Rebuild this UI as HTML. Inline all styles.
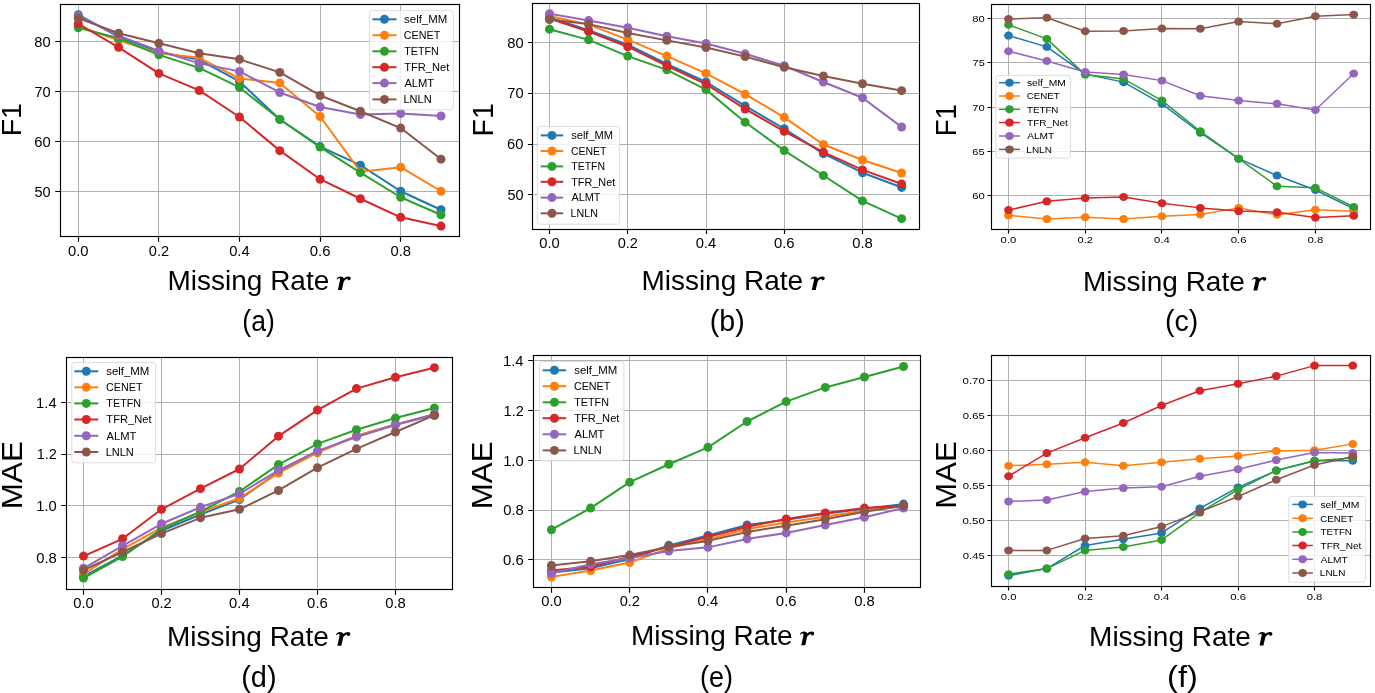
<!DOCTYPE html>
<html><head><meta charset="utf-8"><style>
html,body{margin:0;padding:0;background:#fff;width:1375px;height:693px;overflow:hidden}
svg{display:block;will-change:transform}
text{font-family:"Liberation Sans",sans-serif;fill:#000}
</style></head><body>
<svg width="1375" height="693" viewBox="0 0 1375 693">
<rect width="1375" height="693" fill="#fff"/>
<clipPath id="clip0"><rect x="60.5" y="4.3" width="398.8" height="231.9"/></clipPath>
<path d="M78.5 4.3V236.2M158.5 4.3V236.2M239.5 4.3V236.2M320.5 4.3V236.2M400.5 4.3V236.2M60.5 191.5H459.3M60.5 141.5H459.3M60.5 91.5H459.3M60.5 41.5H459.3" stroke="#b0b0b0" stroke-width="1" fill="none"/>
<g clip-path="url(#clip0)">
<path d="M78.3 14.72 L118.6 36.79 L158.9 51.83 L199.2 59.86 L239.5 81.42 L279.8 119.53 L320.1 146.62 L360.4 165.17 L400.7 191.25 L441 209.8" stroke="#1f77b4" stroke-width="2" fill="none" stroke-linejoin="round" stroke-linecap="square"/>
<g fill="#1f77b4"><ellipse cx="78.3" cy="14.72" rx="4.5" ry="4.5"/><ellipse cx="118.6" cy="36.79" rx="4.5" ry="4.5"/><ellipse cx="158.9" cy="51.83" rx="4.5" ry="4.5"/><ellipse cx="199.2" cy="59.86" rx="4.5" ry="4.5"/><ellipse cx="239.5" cy="81.42" rx="4.5" ry="4.5"/><ellipse cx="279.8" cy="119.53" rx="4.5" ry="4.5"/><ellipse cx="320.1" cy="146.62" rx="4.5" ry="4.5"/><ellipse cx="360.4" cy="165.17" rx="4.5" ry="4.5"/><ellipse cx="400.7" cy="191.25" rx="4.5" ry="4.5"/><ellipse cx="441" cy="209.8" rx="4.5" ry="4.5"/></g>
<path d="M78.3 26.25 L118.6 40.3 L158.9 53.34 L199.2 57.85 L239.5 78.41 L279.8 82.92 L320.1 116.52 L360.4 171.69 L400.7 167.18 L441 191.25" stroke="#ff7f0e" stroke-width="2" fill="none" stroke-linejoin="round" stroke-linecap="square"/>
<g fill="#ff7f0e"><ellipse cx="78.3" cy="26.25" rx="4.5" ry="4.5"/><ellipse cx="118.6" cy="40.3" rx="4.5" ry="4.5"/><ellipse cx="158.9" cy="53.34" rx="4.5" ry="4.5"/><ellipse cx="199.2" cy="57.85" rx="4.5" ry="4.5"/><ellipse cx="239.5" cy="78.41" rx="4.5" ry="4.5"/><ellipse cx="279.8" cy="82.92" rx="4.5" ry="4.5"/><ellipse cx="320.1" cy="116.52" rx="4.5" ry="4.5"/><ellipse cx="360.4" cy="171.69" rx="4.5" ry="4.5"/><ellipse cx="400.7" cy="167.18" rx="4.5" ry="4.5"/><ellipse cx="441" cy="191.25" rx="4.5" ry="4.5"/></g>
<path d="M78.3 27.76 L118.6 38.29 L158.9 54.84 L199.2 67.88 L239.5 87.44 L279.8 119.28 L320.1 147.12 L360.4 172.69 L400.7 197.27 L441 214.82" stroke="#2ca02c" stroke-width="2" fill="none" stroke-linejoin="round" stroke-linecap="square"/>
<g fill="#2ca02c"><ellipse cx="78.3" cy="27.76" rx="4.5" ry="4.5"/><ellipse cx="118.6" cy="38.29" rx="4.5" ry="4.5"/><ellipse cx="158.9" cy="54.84" rx="4.5" ry="4.5"/><ellipse cx="199.2" cy="67.88" rx="4.5" ry="4.5"/><ellipse cx="239.5" cy="87.44" rx="4.5" ry="4.5"/><ellipse cx="279.8" cy="119.28" rx="4.5" ry="4.5"/><ellipse cx="320.1" cy="147.12" rx="4.5" ry="4.5"/><ellipse cx="360.4" cy="172.69" rx="4.5" ry="4.5"/><ellipse cx="400.7" cy="197.27" rx="4.5" ry="4.5"/><ellipse cx="441" cy="214.82" rx="4.5" ry="4.5"/></g>
<path d="M78.3 23.75 L118.6 47.32 L158.9 73.4 L199.2 90.45 L239.5 117.03 L279.8 150.63 L320.1 179.21 L360.4 198.77 L400.7 217.33 L441 226.1" stroke="#d62728" stroke-width="2" fill="none" stroke-linejoin="round" stroke-linecap="square"/>
<g fill="#d62728"><ellipse cx="78.3" cy="23.75" rx="4.5" ry="4.5"/><ellipse cx="118.6" cy="47.32" rx="4.5" ry="4.5"/><ellipse cx="158.9" cy="73.4" rx="4.5" ry="4.5"/><ellipse cx="199.2" cy="90.45" rx="4.5" ry="4.5"/><ellipse cx="239.5" cy="117.03" rx="4.5" ry="4.5"/><ellipse cx="279.8" cy="150.63" rx="4.5" ry="4.5"/><ellipse cx="320.1" cy="179.21" rx="4.5" ry="4.5"/><ellipse cx="360.4" cy="198.77" rx="4.5" ry="4.5"/><ellipse cx="400.7" cy="217.33" rx="4.5" ry="4.5"/><ellipse cx="441" cy="226.1" rx="4.5" ry="4.5"/></g>
<path d="M78.3 15.72 L118.6 35.78 L158.9 50.83 L199.2 63.37 L239.5 71.39 L279.8 92.45 L320.1 107 L360.4 114.52 L400.7 113.52 L441 116.02" stroke="#9467bd" stroke-width="2" fill="none" stroke-linejoin="round" stroke-linecap="square"/>
<g fill="#9467bd"><ellipse cx="78.3" cy="15.72" rx="4.5" ry="4.5"/><ellipse cx="118.6" cy="35.78" rx="4.5" ry="4.5"/><ellipse cx="158.9" cy="50.83" rx="4.5" ry="4.5"/><ellipse cx="199.2" cy="63.37" rx="4.5" ry="4.5"/><ellipse cx="239.5" cy="71.39" rx="4.5" ry="4.5"/><ellipse cx="279.8" cy="92.45" rx="4.5" ry="4.5"/><ellipse cx="320.1" cy="107" rx="4.5" ry="4.5"/><ellipse cx="360.4" cy="114.52" rx="4.5" ry="4.5"/><ellipse cx="400.7" cy="113.52" rx="4.5" ry="4.5"/><ellipse cx="441" cy="116.02" rx="4.5" ry="4.5"/></g>
<path d="M78.3 18.23 L118.6 33.28 L158.9 43.31 L199.2 53.34 L239.5 59.35 L279.8 72.39 L320.1 95.46 L360.4 111.26 L400.7 128.06 L441 159.15" stroke="#8c564b" stroke-width="2" fill="none" stroke-linejoin="round" stroke-linecap="square"/>
<g fill="#8c564b"><ellipse cx="78.3" cy="18.23" rx="4.5" ry="4.5"/><ellipse cx="118.6" cy="33.28" rx="4.5" ry="4.5"/><ellipse cx="158.9" cy="43.31" rx="4.5" ry="4.5"/><ellipse cx="199.2" cy="53.34" rx="4.5" ry="4.5"/><ellipse cx="239.5" cy="59.35" rx="4.5" ry="4.5"/><ellipse cx="279.8" cy="72.39" rx="4.5" ry="4.5"/><ellipse cx="320.1" cy="95.46" rx="4.5" ry="4.5"/><ellipse cx="360.4" cy="111.26" rx="4.5" ry="4.5"/><ellipse cx="400.7" cy="128.06" rx="4.5" ry="4.5"/><ellipse cx="441" cy="159.15" rx="4.5" ry="4.5"/></g>
</g>
<rect x="60.5" y="4.5" width="399" height="232" fill="none" stroke="#000" stroke-width="1.15"/>
<path d="M78.5 236.5V241.8M158.5 236.5V241.8M239.5 236.5V241.8M320.5 236.5V241.8M400.5 236.5V241.8M60.5 191.5H55.2M60.5 141.5H55.2M60.5 91.5H55.2M60.5 41.5H55.2" stroke="#000" stroke-width="1.15" fill="none"/>
<text x="68.03" y="255.6" font-size="14.09" textLength="20.55" lengthAdjust="spacingAndGlyphs">0.0</text>
<text x="148.86" y="255.6" font-size="14.09" textLength="20.24" lengthAdjust="spacingAndGlyphs">0.2</text>
<text x="229.16" y="255.6" font-size="14.09" textLength="20.54" lengthAdjust="spacingAndGlyphs">0.4</text>
<text x="309.8" y="255.6" font-size="14.09" textLength="20.67" lengthAdjust="spacingAndGlyphs">0.6</text>
<text x="390.44" y="255.6" font-size="14.09" textLength="20.59" lengthAdjust="spacingAndGlyphs">0.8</text>
<text x="34.5" y="196.98" font-size="14.09" textLength="16.16" lengthAdjust="spacingAndGlyphs">50</text>
<text x="34.24" y="146.83" font-size="14.09" textLength="16.44" lengthAdjust="spacingAndGlyphs">60</text>
<text x="34.4" y="96.68" font-size="14.09" textLength="16.27" lengthAdjust="spacingAndGlyphs">70</text>
<text x="34.32" y="46.53" font-size="14.09" textLength="16.35" lengthAdjust="spacingAndGlyphs">80</text>
<g transform="translate(20.8 134) rotate(-90)"><text x="-2.34" y="0" font-size="28.49" textLength="33.23" lengthAdjust="spacingAndGlyphs">F1</text></g>
<text x="167.5" y="290" font-size="28.49" textLength="161.74" lengthAdjust="spacingAndGlyphs">Missing Rate</text>
<path transform="translate(333.9 272.4)" d="M2.6 6.6C3.3 5.1 4.8 4.0 6.6 4.0C8.3 4.0 9.3 4.7 9.9 5.9C11.2 4.8 12.9 4.0 14.6 4.0C16.1 4.0 16.9 4.7 16.9 5.8C16.9 7.0 16.0 7.8 15.0 7.8C14.0 7.8 13.5 7.1 13.8 6.3C12.2 6.5 10.8 7.6 9.9 9.0L7.9 17.6L4.0 17.6L6.2 7.4C6.3 6.5 5.9 5.9 5.1 5.9C4.3 5.9 3.7 6.4 3.2 7.1Z"/>
<text x="242.3" y="331.4" font-size="28.76" textLength="32.44" lengthAdjust="spacingAndGlyphs">(a)</text>
<rect x="369.5" y="10.6" width="83.8" height="99.2" rx="2.5" fill="#fff" fill-opacity="0.8" stroke="#d4d4d4" stroke-opacity="0.8" stroke-width="1"/>
<path d="M372.4 19.3H396.5" stroke="#1f77b4" stroke-width="2"/>
<ellipse cx="384.45" cy="19.3" rx="4.5" ry="4.5" fill="#1f77b4"/>
<text x="404.08" y="23.27" font-size="11.55" textLength="43.11" lengthAdjust="spacingAndGlyphs">self_MM</text>
<path d="M372.4 35.2H396.5" stroke="#ff7f0e" stroke-width="2"/>
<ellipse cx="384.45" cy="35.2" rx="4.5" ry="4.5" fill="#ff7f0e"/>
<text x="403.85" y="39.17" font-size="11.55" textLength="36.41" lengthAdjust="spacingAndGlyphs">CENET</text>
<path d="M372.4 51.3H396.5" stroke="#2ca02c" stroke-width="2"/>
<ellipse cx="384.45" cy="51.3" rx="4.5" ry="4.5" fill="#2ca02c"/>
<text x="404.16" y="55.27" font-size="11.55" textLength="34.71" lengthAdjust="spacingAndGlyphs">TETFN</text>
<path d="M372.4 67.2H396.5" stroke="#d62728" stroke-width="2"/>
<ellipse cx="384.45" cy="67.2" rx="4.5" ry="4.5" fill="#d62728"/>
<text x="404.15" y="71.17" font-size="11.55" textLength="45.19" lengthAdjust="spacingAndGlyphs">TFR_Net</text>
<path d="M372.4 83.1H396.5" stroke="#9467bd" stroke-width="2"/>
<ellipse cx="384.45" cy="83.1" rx="4.5" ry="4.5" fill="#9467bd"/>
<text x="404.38" y="87.07" font-size="11.55" textLength="29.82" lengthAdjust="spacingAndGlyphs">ALMT</text>
<path d="M372.4 99.4H396.5" stroke="#8c564b" stroke-width="2"/>
<ellipse cx="384.45" cy="99.4" rx="4.5" ry="4.5" fill="#8c564b"/>
<text x="403.5" y="103.37" font-size="11.55" textLength="28.11" lengthAdjust="spacingAndGlyphs">LNLN</text>
<clipPath id="clip1"><rect x="532.7" y="3.5" width="386.7" height="225.5"/></clipPath>
<path d="M549.5 3.5V229M627.5 3.5V229M706.5 3.5V229M784.5 3.5V229M862.5 3.5V229M532.7 194.5H919.4M532.7 144.5H919.4M532.7 93.5H919.4M532.7 42.5H919.4" stroke="#b0b0b0" stroke-width="1" fill="none"/>
<g clip-path="url(#clip1)">
<path d="M549.5 17.51 L588.62 30.21 L627.75 44.69 L666.88 63.99 L706 82.02 L745.12 105.9 L784.25 128.76 L823.38 153.65 L862.5 172.7 L901.62 187.43" stroke="#1f77b4" stroke-width="2" fill="none" stroke-linejoin="round" stroke-linecap="square"/>
<g fill="#1f77b4"><ellipse cx="549.5" cy="17.51" rx="4.5" ry="4.5"/><ellipse cx="588.62" cy="30.21" rx="4.5" ry="4.5"/><ellipse cx="627.75" cy="44.69" rx="4.5" ry="4.5"/><ellipse cx="666.88" cy="63.99" rx="4.5" ry="4.5"/><ellipse cx="706" cy="82.02" rx="4.5" ry="4.5"/><ellipse cx="745.12" cy="105.9" rx="4.5" ry="4.5"/><ellipse cx="784.25" cy="128.76" rx="4.5" ry="4.5"/><ellipse cx="823.38" cy="153.65" rx="4.5" ry="4.5"/><ellipse cx="862.5" cy="172.7" rx="4.5" ry="4.5"/><ellipse cx="901.62" cy="187.43" rx="4.5" ry="4.5"/></g>
<path d="M549.5 15.98 L588.62 24.62 L627.75 39.61 L666.88 56.12 L706 73.39 L745.12 94.22 L784.25 117.33 L823.38 144.51 L862.5 160 L901.62 172.96" stroke="#ff7f0e" stroke-width="2" fill="none" stroke-linejoin="round" stroke-linecap="square"/>
<g fill="#ff7f0e"><ellipse cx="549.5" cy="15.98" rx="4.5" ry="4.5"/><ellipse cx="588.62" cy="24.62" rx="4.5" ry="4.5"/><ellipse cx="627.75" cy="39.61" rx="4.5" ry="4.5"/><ellipse cx="666.88" cy="56.12" rx="4.5" ry="4.5"/><ellipse cx="706" cy="73.39" rx="4.5" ry="4.5"/><ellipse cx="745.12" cy="94.22" rx="4.5" ry="4.5"/><ellipse cx="784.25" cy="117.33" rx="4.5" ry="4.5"/><ellipse cx="823.38" cy="144.51" rx="4.5" ry="4.5"/><ellipse cx="862.5" cy="160" rx="4.5" ry="4.5"/><ellipse cx="901.62" cy="172.96" rx="4.5" ry="4.5"/></g>
<path d="M549.5 29.19 L588.62 39.86 L627.75 56.12 L666.88 69.83 L706 89.64 L745.12 122.16 L784.25 150.6 L823.38 175.5 L862.5 200.9 L901.62 218.68" stroke="#2ca02c" stroke-width="2" fill="none" stroke-linejoin="round" stroke-linecap="square"/>
<g fill="#2ca02c"><ellipse cx="549.5" cy="29.19" rx="4.5" ry="4.5"/><ellipse cx="588.62" cy="39.86" rx="4.5" ry="4.5"/><ellipse cx="627.75" cy="56.12" rx="4.5" ry="4.5"/><ellipse cx="666.88" cy="69.83" rx="4.5" ry="4.5"/><ellipse cx="706" cy="89.64" rx="4.5" ry="4.5"/><ellipse cx="745.12" cy="122.16" rx="4.5" ry="4.5"/><ellipse cx="784.25" cy="150.6" rx="4.5" ry="4.5"/><ellipse cx="823.38" cy="175.5" rx="4.5" ry="4.5"/><ellipse cx="862.5" cy="200.9" rx="4.5" ry="4.5"/><ellipse cx="901.62" cy="218.68" rx="4.5" ry="4.5"/></g>
<path d="M549.5 18.52 L588.62 31.48 L627.75 46.72 L666.88 65.77 L706 84.06 L745.12 108.95 L784.25 131.3 L823.38 152.13 L862.5 169.91 L901.62 183.88" stroke="#d62728" stroke-width="2" fill="none" stroke-linejoin="round" stroke-linecap="square"/>
<g fill="#d62728"><ellipse cx="549.5" cy="18.52" rx="4.5" ry="4.5"/><ellipse cx="588.62" cy="31.48" rx="4.5" ry="4.5"/><ellipse cx="627.75" cy="46.72" rx="4.5" ry="4.5"/><ellipse cx="666.88" cy="65.77" rx="4.5" ry="4.5"/><ellipse cx="706" cy="84.06" rx="4.5" ry="4.5"/><ellipse cx="745.12" cy="108.95" rx="4.5" ry="4.5"/><ellipse cx="784.25" cy="131.3" rx="4.5" ry="4.5"/><ellipse cx="823.38" cy="152.13" rx="4.5" ry="4.5"/><ellipse cx="862.5" cy="169.91" rx="4.5" ry="4.5"/><ellipse cx="901.62" cy="183.88" rx="4.5" ry="4.5"/></g>
<path d="M549.5 13.65 L588.62 20.56 L627.75 27.67 L666.88 36.3 L706 43.42 L745.12 53.83 L784.25 65.77 L823.38 82.02 L862.5 97.77 L901.62 126.98" stroke="#9467bd" stroke-width="2" fill="none" stroke-linejoin="round" stroke-linecap="square"/>
<g fill="#9467bd"><ellipse cx="549.5" cy="13.65" rx="4.5" ry="4.5"/><ellipse cx="588.62" cy="20.56" rx="4.5" ry="4.5"/><ellipse cx="627.75" cy="27.67" rx="4.5" ry="4.5"/><ellipse cx="666.88" cy="36.3" rx="4.5" ry="4.5"/><ellipse cx="706" cy="43.42" rx="4.5" ry="4.5"/><ellipse cx="745.12" cy="53.83" rx="4.5" ry="4.5"/><ellipse cx="784.25" cy="65.77" rx="4.5" ry="4.5"/><ellipse cx="823.38" cy="82.02" rx="4.5" ry="4.5"/><ellipse cx="862.5" cy="97.77" rx="4.5" ry="4.5"/><ellipse cx="901.62" cy="126.98" rx="4.5" ry="4.5"/></g>
<path d="M549.5 19.54 L588.62 24.11 L627.75 33 L666.88 40.37 L706 47.48 L745.12 56.62 L784.25 67.29 L823.38 75.93 L862.5 83.8 L901.62 90.66" stroke="#8c564b" stroke-width="2" fill="none" stroke-linejoin="round" stroke-linecap="square"/>
<g fill="#8c564b"><ellipse cx="549.5" cy="19.54" rx="4.5" ry="4.5"/><ellipse cx="588.62" cy="24.11" rx="4.5" ry="4.5"/><ellipse cx="627.75" cy="33" rx="4.5" ry="4.5"/><ellipse cx="666.88" cy="40.37" rx="4.5" ry="4.5"/><ellipse cx="706" cy="47.48" rx="4.5" ry="4.5"/><ellipse cx="745.12" cy="56.62" rx="4.5" ry="4.5"/><ellipse cx="784.25" cy="67.29" rx="4.5" ry="4.5"/><ellipse cx="823.38" cy="75.93" rx="4.5" ry="4.5"/><ellipse cx="862.5" cy="83.8" rx="4.5" ry="4.5"/><ellipse cx="901.62" cy="90.66" rx="4.5" ry="4.5"/></g>
</g>
<rect x="532.5" y="3.5" width="387" height="226" fill="none" stroke="#000" stroke-width="1.15"/>
<path d="M549.5 229.5V234.1M627.5 229.5V234.1M706.5 229.5V234.1M784.5 229.5V234.1M862.5 229.5V234.1M532.5 194.5H527.9M532.5 144.5H527.9M532.5 93.5H527.9M532.5 42.5H527.9" stroke="#000" stroke-width="1.15" fill="none"/>
<text x="539.23" y="247.8" font-size="14.09" textLength="20.55" lengthAdjust="spacingAndGlyphs">0.0</text>
<text x="617.71" y="247.8" font-size="14.09" textLength="20.24" lengthAdjust="spacingAndGlyphs">0.2</text>
<text x="695.66" y="247.8" font-size="14.09" textLength="20.54" lengthAdjust="spacingAndGlyphs">0.4</text>
<text x="773.95" y="247.8" font-size="14.09" textLength="20.67" lengthAdjust="spacingAndGlyphs">0.6</text>
<text x="852.24" y="247.8" font-size="14.09" textLength="20.59" lengthAdjust="spacingAndGlyphs">0.8</text>
<text x="507.4" y="200.03" font-size="14.09" textLength="16.16" lengthAdjust="spacingAndGlyphs">50</text>
<text x="507.14" y="149.23" font-size="14.09" textLength="16.44" lengthAdjust="spacingAndGlyphs">60</text>
<text x="507.3" y="98.43" font-size="14.09" textLength="16.27" lengthAdjust="spacingAndGlyphs">70</text>
<text x="507.22" y="47.63" font-size="14.09" textLength="16.35" lengthAdjust="spacingAndGlyphs">80</text>
<g transform="translate(493.2 134.1) rotate(-90)"><text x="-2.33" y="0" font-size="29.36" textLength="33.11" lengthAdjust="spacingAndGlyphs">F1</text></g>
<text x="641.4" y="290.1" font-size="28.49" textLength="161.74" lengthAdjust="spacingAndGlyphs">Missing Rate</text>
<path transform="translate(807.8 272.5)" d="M2.6 6.6C3.3 5.1 4.8 4.0 6.6 4.0C8.3 4.0 9.3 4.7 9.9 5.9C11.2 4.8 12.9 4.0 14.6 4.0C16.1 4.0 16.9 4.7 16.9 5.8C16.9 7.0 16.0 7.8 15.0 7.8C14.0 7.8 13.5 7.1 13.8 6.3C12.2 6.5 10.8 7.6 9.9 9.0L7.9 17.6L4.0 17.6L6.2 7.4C6.3 6.5 5.9 5.9 5.1 5.9C4.3 5.9 3.7 6.4 3.2 7.1Z"/>
<text x="709.73" y="331.2" font-size="28.76" textLength="34.95" lengthAdjust="spacingAndGlyphs">(b)</text>
<rect x="537.3" y="126.4" width="82.3" height="97.8" rx="2.5" fill="#fff" fill-opacity="0.8" stroke="#d4d4d4" stroke-opacity="0.8" stroke-width="1"/>
<path d="M540.7 135.4H563.2" stroke="#1f77b4" stroke-width="2"/>
<ellipse cx="551.95" cy="135.4" rx="4.5" ry="4.5" fill="#1f77b4"/>
<text x="571.19" y="139.26" font-size="11.23" textLength="41.92" lengthAdjust="spacingAndGlyphs">self_MM</text>
<path d="M540.7 151H563.2" stroke="#ff7f0e" stroke-width="2"/>
<ellipse cx="551.95" cy="151" rx="4.5" ry="4.5" fill="#ff7f0e"/>
<text x="570.97" y="154.86" font-size="11.23" textLength="35.41" lengthAdjust="spacingAndGlyphs">CENET</text>
<path d="M540.7 166.4H563.2" stroke="#2ca02c" stroke-width="2"/>
<ellipse cx="551.95" cy="166.4" rx="4.5" ry="4.5" fill="#2ca02c"/>
<text x="571.26" y="170.26" font-size="11.23" textLength="33.75" lengthAdjust="spacingAndGlyphs">TETFN</text>
<path d="M540.7 181.8H563.2" stroke="#d62728" stroke-width="2"/>
<ellipse cx="551.95" cy="181.8" rx="4.5" ry="4.5" fill="#d62728"/>
<text x="571.26" y="185.66" font-size="11.23" textLength="43.94" lengthAdjust="spacingAndGlyphs">TFR_Net</text>
<path d="M540.7 197.6H563.2" stroke="#9467bd" stroke-width="2"/>
<ellipse cx="551.95" cy="197.6" rx="4.5" ry="4.5" fill="#9467bd"/>
<text x="571.48" y="201.46" font-size="11.23" textLength="29" lengthAdjust="spacingAndGlyphs">ALMT</text>
<path d="M540.7 213.3H563.2" stroke="#8c564b" stroke-width="2"/>
<ellipse cx="551.95" cy="213.3" rx="4.5" ry="4.5" fill="#8c564b"/>
<text x="570.62" y="217.16" font-size="11.23" textLength="27.34" lengthAdjust="spacingAndGlyphs">LNLN</text>
<clipPath id="clip2"><rect x="991.6" y="4.3" width="378.7" height="225"/></clipPath>
<path d="M1008.5 4.3V229.3M1085.5 4.3V229.3M1161.5 4.3V229.3M1238.5 4.3V229.3M1315.5 4.3V229.3M991.6 195.5H1370.3M991.6 151.5H1370.3M991.6 107.5H1370.3M991.6 62.5H1370.3M991.6 18.5H1370.3" stroke="#b0b0b0" stroke-width="1" fill="none"/>
<g clip-path="url(#clip2)">
<path d="M1008.5 35.6 L1046.86 46.88 L1085.22 74.14 L1123.58 82.14 L1161.94 103.8 L1200.3 132.75 L1238.66 158.68 L1277.02 175.55 L1315.38 190.03 L1353.74 208.76" stroke="#1f77b4" stroke-width="1.5" fill="none" stroke-linejoin="round" stroke-linecap="square"/>
<g fill="#1f77b4"><ellipse cx="1008.5" cy="35.6" rx="4.41" ry="3.99"/><ellipse cx="1046.86" cy="46.88" rx="4.41" ry="3.99"/><ellipse cx="1085.22" cy="74.14" rx="4.41" ry="3.99"/><ellipse cx="1123.58" cy="82.14" rx="4.41" ry="3.99"/><ellipse cx="1161.94" cy="103.8" rx="4.41" ry="3.99"/><ellipse cx="1200.3" cy="132.75" rx="4.41" ry="3.99"/><ellipse cx="1238.66" cy="158.68" rx="4.41" ry="3.99"/><ellipse cx="1277.02" cy="175.55" rx="4.41" ry="3.99"/><ellipse cx="1315.38" cy="190.03" rx="4.41" ry="3.99"/><ellipse cx="1353.74" cy="208.76" rx="4.41" ry="3.99"/></g>
<path d="M1008.5 215.34 L1046.86 219.07 L1085.22 217.29 L1123.58 219.07 L1161.94 216.22 L1200.3 214.45 L1238.66 207.88 L1277.02 214.8 L1315.38 209.74 L1353.74 211.16" stroke="#ff7f0e" stroke-width="1.5" fill="none" stroke-linejoin="round" stroke-linecap="square"/>
<g fill="#ff7f0e"><ellipse cx="1008.5" cy="215.34" rx="4.41" ry="3.99"/><ellipse cx="1046.86" cy="219.07" rx="4.41" ry="3.99"/><ellipse cx="1085.22" cy="217.29" rx="4.41" ry="3.99"/><ellipse cx="1123.58" cy="219.07" rx="4.41" ry="3.99"/><ellipse cx="1161.94" cy="216.22" rx="4.41" ry="3.99"/><ellipse cx="1200.3" cy="214.45" rx="4.41" ry="3.99"/><ellipse cx="1238.66" cy="207.88" rx="4.41" ry="3.99"/><ellipse cx="1277.02" cy="214.8" rx="4.41" ry="3.99"/><ellipse cx="1315.38" cy="209.74" rx="4.41" ry="3.99"/><ellipse cx="1353.74" cy="211.16" rx="4.41" ry="3.99"/></g>
<path d="M1008.5 24.77 L1046.86 38.89 L1085.22 74.59 L1123.58 78.94 L1161.94 100.61 L1200.3 131.33 L1238.66 158.68 L1277.02 186.3 L1315.38 187.81 L1353.74 206.9" stroke="#2ca02c" stroke-width="1.5" fill="none" stroke-linejoin="round" stroke-linecap="square"/>
<g fill="#2ca02c"><ellipse cx="1008.5" cy="24.77" rx="4.41" ry="3.99"/><ellipse cx="1046.86" cy="38.89" rx="4.41" ry="3.99"/><ellipse cx="1085.22" cy="74.59" rx="4.41" ry="3.99"/><ellipse cx="1123.58" cy="78.94" rx="4.41" ry="3.99"/><ellipse cx="1161.94" cy="100.61" rx="4.41" ry="3.99"/><ellipse cx="1200.3" cy="131.33" rx="4.41" ry="3.99"/><ellipse cx="1238.66" cy="158.68" rx="4.41" ry="3.99"/><ellipse cx="1277.02" cy="186.3" rx="4.41" ry="3.99"/><ellipse cx="1315.38" cy="187.81" rx="4.41" ry="3.99"/><ellipse cx="1353.74" cy="206.9" rx="4.41" ry="3.99"/></g>
<path d="M1008.5 210.1 L1046.86 201.31 L1085.22 198.11 L1123.58 197.04 L1161.94 203.17 L1200.3 207.88 L1238.66 211.07 L1277.02 212.23 L1315.38 217.56 L1353.74 215.69" stroke="#d62728" stroke-width="1.5" fill="none" stroke-linejoin="round" stroke-linecap="square"/>
<g fill="#d62728"><ellipse cx="1008.5" cy="210.1" rx="4.41" ry="3.99"/><ellipse cx="1046.86" cy="201.31" rx="4.41" ry="3.99"/><ellipse cx="1085.22" cy="198.11" rx="4.41" ry="3.99"/><ellipse cx="1123.58" cy="197.04" rx="4.41" ry="3.99"/><ellipse cx="1161.94" cy="203.17" rx="4.41" ry="3.99"/><ellipse cx="1200.3" cy="207.88" rx="4.41" ry="3.99"/><ellipse cx="1238.66" cy="211.07" rx="4.41" ry="3.99"/><ellipse cx="1277.02" cy="212.23" rx="4.41" ry="3.99"/><ellipse cx="1315.38" cy="217.56" rx="4.41" ry="3.99"/><ellipse cx="1353.74" cy="215.69" rx="4.41" ry="3.99"/></g>
<path d="M1008.5 51.23 L1046.86 60.91 L1085.22 72.01 L1123.58 74.59 L1161.94 80.63 L1200.3 95.81 L1238.66 100.61 L1277.02 103.8 L1315.38 109.93 L1353.74 73.52" stroke="#9467bd" stroke-width="1.5" fill="none" stroke-linejoin="round" stroke-linecap="square"/>
<g fill="#9467bd"><ellipse cx="1008.5" cy="51.23" rx="4.41" ry="3.99"/><ellipse cx="1046.86" cy="60.91" rx="4.41" ry="3.99"/><ellipse cx="1085.22" cy="72.01" rx="4.41" ry="3.99"/><ellipse cx="1123.58" cy="74.59" rx="4.41" ry="3.99"/><ellipse cx="1161.94" cy="80.63" rx="4.41" ry="3.99"/><ellipse cx="1200.3" cy="95.81" rx="4.41" ry="3.99"/><ellipse cx="1238.66" cy="100.61" rx="4.41" ry="3.99"/><ellipse cx="1277.02" cy="103.8" rx="4.41" ry="3.99"/><ellipse cx="1315.38" cy="109.93" rx="4.41" ry="3.99"/><ellipse cx="1353.74" cy="73.52" rx="4.41" ry="3.99"/></g>
<path d="M1008.5 19.09 L1046.86 17.67 L1085.22 31.25 L1123.58 30.9 L1161.94 28.5 L1200.3 28.68 L1238.66 21.57 L1277.02 23.71 L1315.38 16.16 L1353.74 14.65" stroke="#8c564b" stroke-width="1.5" fill="none" stroke-linejoin="round" stroke-linecap="square"/>
<g fill="#8c564b"><ellipse cx="1008.5" cy="19.09" rx="4.41" ry="3.99"/><ellipse cx="1046.86" cy="17.67" rx="4.41" ry="3.99"/><ellipse cx="1085.22" cy="31.25" rx="4.41" ry="3.99"/><ellipse cx="1123.58" cy="30.9" rx="4.41" ry="3.99"/><ellipse cx="1161.94" cy="28.5" rx="4.41" ry="3.99"/><ellipse cx="1200.3" cy="28.68" rx="4.41" ry="3.99"/><ellipse cx="1238.66" cy="21.57" rx="4.41" ry="3.99"/><ellipse cx="1277.02" cy="23.71" rx="4.41" ry="3.99"/><ellipse cx="1315.38" cy="16.16" rx="4.41" ry="3.99"/><ellipse cx="1353.74" cy="14.65" rx="4.41" ry="3.99"/></g>
</g>
<rect x="991.5" y="4.5" width="379" height="225" fill="none" stroke="#000" stroke-width="1.15"/>
<path d="M1008.5 229.5V233.5M1085.5 229.5V233.5M1161.5 229.5V233.5M1238.5 229.5V233.5M1315.5 229.5V233.5M991.5 195.5H987.5M991.5 151.5H987.5M991.5 107.5H987.5M991.5 62.5H987.5M991.5 18.5H987.5" stroke="#000" stroke-width="1.15" fill="none"/>
<text x="1000.64" y="242.7" font-size="9.54" textLength="15.71" lengthAdjust="spacingAndGlyphs">0.0</text>
<text x="1077.54" y="242.7" font-size="9.54" textLength="15.48" lengthAdjust="spacingAndGlyphs">0.2</text>
<text x="1154.03" y="242.7" font-size="9.54" textLength="15.7" lengthAdjust="spacingAndGlyphs">0.4</text>
<text x="1230.78" y="242.7" font-size="9.54" textLength="15.81" lengthAdjust="spacingAndGlyphs">0.6</text>
<text x="1307.53" y="242.7" font-size="9.54" textLength="15.74" lengthAdjust="spacingAndGlyphs">0.8</text>
<text x="972.17" y="199.34" font-size="9.54" textLength="12.57" lengthAdjust="spacingAndGlyphs">60</text>
<text x="972.39" y="154.94" font-size="9.54" textLength="12.37" lengthAdjust="spacingAndGlyphs">65</text>
<text x="972.3" y="110.54" font-size="9.54" textLength="12.44" lengthAdjust="spacingAndGlyphs">70</text>
<text x="972.52" y="66.14" font-size="9.54" textLength="12.24" lengthAdjust="spacingAndGlyphs">75</text>
<text x="972.24" y="21.74" font-size="9.54" textLength="12.5" lengthAdjust="spacingAndGlyphs">80</text>
<g transform="translate(956.2 134.1) rotate(-90)"><text x="-2.27" y="0" font-size="29.8" textLength="32.32" lengthAdjust="spacingAndGlyphs">F1</text></g>
<text x="1083" y="290.5" font-size="28.49" textLength="161.74" lengthAdjust="spacingAndGlyphs">Missing Rate</text>
<path transform="translate(1249.4 272.9)" d="M2.6 6.6C3.3 5.1 4.8 4.0 6.6 4.0C8.3 4.0 9.3 4.7 9.9 5.9C11.2 4.8 12.9 4.0 14.6 4.0C16.1 4.0 16.9 4.7 16.9 5.8C16.9 7.0 16.0 7.8 15.0 7.8C14.0 7.8 13.5 7.1 13.8 6.3C12.2 6.5 10.8 7.6 9.9 9.0L7.9 17.6L4.0 17.6L6.2 7.4C6.3 6.5 5.9 5.9 5.1 5.9C4.3 5.9 3.7 6.4 3.2 7.1Z"/>
<text x="1165.03" y="331.2" font-size="28.76" textLength="33.24" lengthAdjust="spacingAndGlyphs">(c)</text>
<rect x="995.8" y="75.4" width="74.7" height="82.7" rx="2.5" fill="#fff" fill-opacity="0.8" stroke="#d4d4d4" stroke-opacity="0.8" stroke-width="1"/>
<path d="M999 82.7H1020" stroke="#1f77b4" stroke-width="1.5"/>
<ellipse cx="1009.5" cy="82.7" rx="4.41" ry="3.99" fill="#1f77b4"/>
<text x="1026.91" y="85.94" font-size="9.43" textLength="39.07" lengthAdjust="spacingAndGlyphs">self_MM</text>
<path d="M999 96H1020" stroke="#ff7f0e" stroke-width="1.5"/>
<ellipse cx="1009.5" cy="96" rx="4.41" ry="3.99" fill="#ff7f0e"/>
<text x="1026.71" y="99.24" font-size="9.43" textLength="33" lengthAdjust="spacingAndGlyphs">CENET</text>
<path d="M999 109.3H1020" stroke="#2ca02c" stroke-width="1.5"/>
<ellipse cx="1009.5" cy="109.3" rx="4.41" ry="3.99" fill="#2ca02c"/>
<text x="1026.98" y="112.54" font-size="9.43" textLength="31.46" lengthAdjust="spacingAndGlyphs">TETFN</text>
<path d="M999 122.6H1020" stroke="#d62728" stroke-width="1.5"/>
<ellipse cx="1009.5" cy="122.6" rx="4.41" ry="3.99" fill="#d62728"/>
<text x="1026.97" y="125.84" font-size="9.43" textLength="40.96" lengthAdjust="spacingAndGlyphs">TFR_Net</text>
<path d="M999 136H1020" stroke="#9467bd" stroke-width="1.5"/>
<ellipse cx="1009.5" cy="136" rx="4.41" ry="3.99" fill="#9467bd"/>
<text x="1027.18" y="139.24" font-size="9.43" textLength="27.02" lengthAdjust="spacingAndGlyphs">ALMT</text>
<path d="M999 149.4H1020" stroke="#8c564b" stroke-width="1.5"/>
<ellipse cx="1009.5" cy="149.4" rx="4.41" ry="3.99" fill="#8c564b"/>
<text x="1026.38" y="152.64" font-size="9.43" textLength="25.48" lengthAdjust="spacingAndGlyphs">LNLN</text>
<clipPath id="clip3"><rect x="66.6" y="357.3" width="385.9" height="232"/></clipPath>
<path d="M83.5 357.3V589.3M161.5 357.3V589.3M239.5 357.3V589.3M317.5 357.3V589.3M395.5 357.3V589.3M66.6 557.5H452.5M66.6 505.5H452.5M66.6 454.5H452.5M66.6 402.5H452.5" stroke="#b0b0b0" stroke-width="1" fill="none"/>
<g clip-path="url(#clip3)">
<path d="M83.5 576.27 L122.49 555.59 L161.48 530.77 L200.47 514.49 L239.46 499.5 L278.45 472.1 L317.44 452.19 L356.43 435.9 L395.42 424.53 L434.41 415.22" stroke="#1f77b4" stroke-width="2" fill="none" stroke-linejoin="round" stroke-linecap="square"/>
<g fill="#1f77b4"><ellipse cx="83.5" cy="576.27" rx="4.5" ry="4.5"/><ellipse cx="122.49" cy="555.59" rx="4.5" ry="4.5"/><ellipse cx="161.48" cy="530.77" rx="4.5" ry="4.5"/><ellipse cx="200.47" cy="514.49" rx="4.5" ry="4.5"/><ellipse cx="239.46" cy="499.5" rx="4.5" ry="4.5"/><ellipse cx="278.45" cy="472.1" rx="4.5" ry="4.5"/><ellipse cx="317.44" cy="452.19" rx="4.5" ry="4.5"/><ellipse cx="356.43" cy="435.9" rx="4.5" ry="4.5"/><ellipse cx="395.42" cy="424.53" rx="4.5" ry="4.5"/><ellipse cx="434.41" cy="415.22" rx="4.5" ry="4.5"/></g>
<path d="M83.5 574.2 L122.49 549.13 L161.48 527.67 L200.47 512.16 L239.46 498.2 L278.45 473.13 L317.44 452.71 L356.43 435.9 L395.42 424.53 L434.41 414.19" stroke="#ff7f0e" stroke-width="2" fill="none" stroke-linejoin="round" stroke-linecap="square"/>
<g fill="#ff7f0e"><ellipse cx="83.5" cy="574.2" rx="4.5" ry="4.5"/><ellipse cx="122.49" cy="549.13" rx="4.5" ry="4.5"/><ellipse cx="161.48" cy="527.67" rx="4.5" ry="4.5"/><ellipse cx="200.47" cy="512.16" rx="4.5" ry="4.5"/><ellipse cx="239.46" cy="498.2" rx="4.5" ry="4.5"/><ellipse cx="278.45" cy="473.13" rx="4.5" ry="4.5"/><ellipse cx="317.44" cy="452.71" rx="4.5" ry="4.5"/><ellipse cx="356.43" cy="435.9" rx="4.5" ry="4.5"/><ellipse cx="395.42" cy="424.53" rx="4.5" ry="4.5"/><ellipse cx="434.41" cy="414.19" rx="4.5" ry="4.5"/></g>
<path d="M83.5 578.08 L122.49 556.62 L161.48 528.97 L200.47 511.65 L239.46 491.48 L278.45 464.6 L317.44 443.92 L356.43 429.7 L395.42 418.07 L434.41 407.99" stroke="#2ca02c" stroke-width="2" fill="none" stroke-linejoin="round" stroke-linecap="square"/>
<g fill="#2ca02c"><ellipse cx="83.5" cy="578.08" rx="4.5" ry="4.5"/><ellipse cx="122.49" cy="556.62" rx="4.5" ry="4.5"/><ellipse cx="161.48" cy="528.97" rx="4.5" ry="4.5"/><ellipse cx="200.47" cy="511.65" rx="4.5" ry="4.5"/><ellipse cx="239.46" cy="491.48" rx="4.5" ry="4.5"/><ellipse cx="278.45" cy="464.6" rx="4.5" ry="4.5"/><ellipse cx="317.44" cy="443.92" rx="4.5" ry="4.5"/><ellipse cx="356.43" cy="429.7" rx="4.5" ry="4.5"/><ellipse cx="395.42" cy="418.07" rx="4.5" ry="4.5"/><ellipse cx="434.41" cy="407.99" rx="4.5" ry="4.5"/></g>
<path d="M83.5 556.11 L122.49 538.79 L161.48 509.32 L200.47 488.64 L239.46 468.99 L278.45 436.16 L317.44 410.05 L356.43 388.6 L395.42 377.23 L434.41 367.66" stroke="#d62728" stroke-width="2" fill="none" stroke-linejoin="round" stroke-linecap="square"/>
<g fill="#d62728"><ellipse cx="83.5" cy="556.11" rx="4.5" ry="4.5"/><ellipse cx="122.49" cy="538.79" rx="4.5" ry="4.5"/><ellipse cx="161.48" cy="509.32" rx="4.5" ry="4.5"/><ellipse cx="200.47" cy="488.64" rx="4.5" ry="4.5"/><ellipse cx="239.46" cy="468.99" rx="4.5" ry="4.5"/><ellipse cx="278.45" cy="436.16" rx="4.5" ry="4.5"/><ellipse cx="317.44" cy="410.05" rx="4.5" ry="4.5"/><ellipse cx="356.43" cy="388.6" rx="4.5" ry="4.5"/><ellipse cx="395.42" cy="377.23" rx="4.5" ry="4.5"/><ellipse cx="434.41" cy="367.66" rx="4.5" ry="4.5"/></g>
<path d="M83.5 568.26 L122.49 545.77 L161.48 523.79 L200.47 507.25 L239.46 493.81 L278.45 470.29 L317.44 450.9 L356.43 436.94 L395.42 425.05 L434.41 414.19" stroke="#9467bd" stroke-width="2" fill="none" stroke-linejoin="round" stroke-linecap="square"/>
<g fill="#9467bd"><ellipse cx="83.5" cy="568.26" rx="4.5" ry="4.5"/><ellipse cx="122.49" cy="545.77" rx="4.5" ry="4.5"/><ellipse cx="161.48" cy="523.79" rx="4.5" ry="4.5"/><ellipse cx="200.47" cy="507.25" rx="4.5" ry="4.5"/><ellipse cx="239.46" cy="493.81" rx="4.5" ry="4.5"/><ellipse cx="278.45" cy="470.29" rx="4.5" ry="4.5"/><ellipse cx="317.44" cy="450.9" rx="4.5" ry="4.5"/><ellipse cx="356.43" cy="436.94" rx="4.5" ry="4.5"/><ellipse cx="395.42" cy="425.05" rx="4.5" ry="4.5"/><ellipse cx="434.41" cy="414.19" rx="4.5" ry="4.5"/></g>
<path d="M83.5 570.07 L122.49 551.97 L161.48 533.62 L200.47 517.85 L239.46 509.32 L278.45 490.45 L317.44 467.7 L356.43 448.83 L395.42 432.03 L434.41 415.22" stroke="#8c564b" stroke-width="2" fill="none" stroke-linejoin="round" stroke-linecap="square"/>
<g fill="#8c564b"><ellipse cx="83.5" cy="570.07" rx="4.5" ry="4.5"/><ellipse cx="122.49" cy="551.97" rx="4.5" ry="4.5"/><ellipse cx="161.48" cy="533.62" rx="4.5" ry="4.5"/><ellipse cx="200.47" cy="517.85" rx="4.5" ry="4.5"/><ellipse cx="239.46" cy="509.32" rx="4.5" ry="4.5"/><ellipse cx="278.45" cy="490.45" rx="4.5" ry="4.5"/><ellipse cx="317.44" cy="467.7" rx="4.5" ry="4.5"/><ellipse cx="356.43" cy="448.83" rx="4.5" ry="4.5"/><ellipse cx="395.42" cy="432.03" rx="4.5" ry="4.5"/><ellipse cx="434.41" cy="415.22" rx="4.5" ry="4.5"/></g>
</g>
<rect x="66.5" y="357.5" width="386" height="232" fill="none" stroke="#000" stroke-width="1.15"/>
<path d="M83.5 589.5V594.8M161.5 589.5V594.8M239.5 589.5V594.8M317.5 589.5V594.8M395.5 589.5V594.8M66.5 557.5H61.2M66.5 505.5H61.2M66.5 454.5H61.2M66.5 402.5H61.2" stroke="#000" stroke-width="1.15" fill="none"/>
<text x="73.23" y="607.9" font-size="14.09" textLength="20.55" lengthAdjust="spacingAndGlyphs">0.0</text>
<text x="151.44" y="607.9" font-size="14.09" textLength="20.24" lengthAdjust="spacingAndGlyphs">0.2</text>
<text x="229.12" y="607.9" font-size="14.09" textLength="20.54" lengthAdjust="spacingAndGlyphs">0.4</text>
<text x="307.14" y="607.9" font-size="14.09" textLength="20.67" lengthAdjust="spacingAndGlyphs">0.6</text>
<text x="385.16" y="607.9" font-size="14.09" textLength="20.59" lengthAdjust="spacingAndGlyphs">0.8</text>
<text x="36.26" y="562.63" font-size="14.09" textLength="20.59" lengthAdjust="spacingAndGlyphs">0.8</text>
<text x="36.27" y="510.93" font-size="14.09" textLength="20.51" lengthAdjust="spacingAndGlyphs">1.0</text>
<text x="36.73" y="459.23" font-size="14.09" textLength="20.2" lengthAdjust="spacingAndGlyphs">1.2</text>
<text x="36.13" y="407.53" font-size="14.09" textLength="20.5" lengthAdjust="spacingAndGlyphs">1.4</text>
<g transform="translate(21.6 506.6) rotate(-90)"><text x="-2.58" y="0" font-size="30.09" textLength="68.02" lengthAdjust="spacingAndGlyphs">MAE</text></g>
<text x="167" y="645.7" font-size="28.49" textLength="161.74" lengthAdjust="spacingAndGlyphs">Missing Rate</text>
<path transform="translate(333.4 628.1)" d="M2.6 6.6C3.3 5.1 4.8 4.0 6.6 4.0C8.3 4.0 9.3 4.7 9.9 5.9C11.2 4.8 12.9 4.0 14.6 4.0C16.1 4.0 16.9 4.7 16.9 5.8C16.9 7.0 16.0 7.8 15.0 7.8C14.0 7.8 13.5 7.1 13.8 6.3C12.2 6.5 10.8 7.6 9.9 9.0L7.9 17.6L4.0 17.6L6.2 7.4C6.3 6.5 5.9 5.9 5.1 5.9C4.3 5.9 3.7 6.4 3.2 7.1Z"/>
<text x="241.2" y="686.6" font-size="28.76" textLength="35.39" lengthAdjust="spacingAndGlyphs">(d)</text>
<rect x="71.8" y="362.5" width="83.8" height="100.3" rx="2.5" fill="#fff" fill-opacity="0.8" stroke="#d4d4d4" stroke-opacity="0.8" stroke-width="1"/>
<path d="M74.3 371.3H98.3" stroke="#1f77b4" stroke-width="2"/>
<ellipse cx="86.3" cy="371.3" rx="4.5" ry="4.5" fill="#1f77b4"/>
<text x="106.28" y="375.27" font-size="11.55" textLength="43.11" lengthAdjust="spacingAndGlyphs">self_MM</text>
<path d="M74.3 387.3H98.3" stroke="#ff7f0e" stroke-width="2"/>
<ellipse cx="86.3" cy="387.3" rx="4.5" ry="4.5" fill="#ff7f0e"/>
<text x="106.05" y="391.27" font-size="11.55" textLength="36.41" lengthAdjust="spacingAndGlyphs">CENET</text>
<path d="M74.3 403.4H98.3" stroke="#2ca02c" stroke-width="2"/>
<ellipse cx="86.3" cy="403.4" rx="4.5" ry="4.5" fill="#2ca02c"/>
<text x="106.36" y="407.37" font-size="11.55" textLength="34.71" lengthAdjust="spacingAndGlyphs">TETFN</text>
<path d="M74.3 419.5H98.3" stroke="#d62728" stroke-width="2"/>
<ellipse cx="86.3" cy="419.5" rx="4.5" ry="4.5" fill="#d62728"/>
<text x="106.35" y="423.47" font-size="11.55" textLength="45.19" lengthAdjust="spacingAndGlyphs">TFR_Net</text>
<path d="M74.3 435.8H98.3" stroke="#9467bd" stroke-width="2"/>
<ellipse cx="86.3" cy="435.8" rx="4.5" ry="4.5" fill="#9467bd"/>
<text x="106.58" y="439.77" font-size="11.55" textLength="29.82" lengthAdjust="spacingAndGlyphs">ALMT</text>
<path d="M74.3 452H98.3" stroke="#8c564b" stroke-width="2"/>
<ellipse cx="86.3" cy="452" rx="4.5" ry="4.5" fill="#8c564b"/>
<text x="105.7" y="455.97" font-size="11.55" textLength="28.11" lengthAdjust="spacingAndGlyphs">LNLN</text>
<clipPath id="clip4"><rect x="533.5" y="355.4" width="386.6" height="231.9"/></clipPath>
<path d="M551.5 355.4V587.3M629.5 355.4V587.3M707.5 355.4V587.3M786.5 355.4V587.3M864.5 355.4V587.3M533.5 559.5H920.1M533.5 510.5H920.1M533.5 460.5H920.1M533.5 410.5H920.1M533.5 360.5H920.1" stroke="#b0b0b0" stroke-width="1" fill="none"/>
<g clip-path="url(#clip4)">
<path d="M551.45 572.74 L590.57 568.26 L629.69 559.05 L668.81 545.37 L707.93 535.42 L747.05 524.98 L786.17 519.75 L825.29 513.78 L864.41 508.81 L903.53 504.08" stroke="#1f77b4" stroke-width="2" fill="none" stroke-linejoin="round" stroke-linecap="square"/>
<g fill="#1f77b4"><ellipse cx="551.45" cy="572.74" rx="4.5" ry="4.5"/><ellipse cx="590.57" cy="568.26" rx="4.5" ry="4.5"/><ellipse cx="629.69" cy="559.05" rx="4.5" ry="4.5"/><ellipse cx="668.81" cy="545.37" rx="4.5" ry="4.5"/><ellipse cx="707.93" cy="535.42" rx="4.5" ry="4.5"/><ellipse cx="747.05" cy="524.98" rx="4.5" ry="4.5"/><ellipse cx="786.17" cy="519.75" rx="4.5" ry="4.5"/><ellipse cx="825.29" cy="513.78" rx="4.5" ry="4.5"/><ellipse cx="864.41" cy="508.81" rx="4.5" ry="4.5"/><ellipse cx="903.53" cy="504.08" rx="4.5" ry="4.5"/></g>
<path d="M551.45 576.96 L590.57 570.5 L629.69 562.54 L668.81 548.36 L707.93 539.4 L747.05 528.96 L786.17 522.49 L825.29 516.77 L864.41 510.55 L903.53 505.82" stroke="#ff7f0e" stroke-width="2" fill="none" stroke-linejoin="round" stroke-linecap="square"/>
<g fill="#ff7f0e"><ellipse cx="551.45" cy="576.96" rx="4.5" ry="4.5"/><ellipse cx="590.57" cy="570.5" rx="4.5" ry="4.5"/><ellipse cx="629.69" cy="562.54" rx="4.5" ry="4.5"/><ellipse cx="668.81" cy="548.36" rx="4.5" ry="4.5"/><ellipse cx="707.93" cy="539.4" rx="4.5" ry="4.5"/><ellipse cx="747.05" cy="528.96" rx="4.5" ry="4.5"/><ellipse cx="786.17" cy="522.49" rx="4.5" ry="4.5"/><ellipse cx="825.29" cy="516.77" rx="4.5" ry="4.5"/><ellipse cx="864.41" cy="510.55" rx="4.5" ry="4.5"/><ellipse cx="903.53" cy="505.82" rx="4.5" ry="4.5"/></g>
<path d="M551.45 529.7 L590.57 508.06 L629.69 482.19 L668.81 464.28 L707.93 447.37 L747.05 421.5 L786.17 401.6 L825.29 387.42 L864.41 376.97 L903.53 366.52" stroke="#2ca02c" stroke-width="2" fill="none" stroke-linejoin="round" stroke-linecap="square"/>
<g fill="#2ca02c"><ellipse cx="551.45" cy="529.7" rx="4.5" ry="4.5"/><ellipse cx="590.57" cy="508.06" rx="4.5" ry="4.5"/><ellipse cx="629.69" cy="482.19" rx="4.5" ry="4.5"/><ellipse cx="668.81" cy="464.28" rx="4.5" ry="4.5"/><ellipse cx="707.93" cy="447.37" rx="4.5" ry="4.5"/><ellipse cx="747.05" cy="421.5" rx="4.5" ry="4.5"/><ellipse cx="786.17" cy="401.6" rx="4.5" ry="4.5"/><ellipse cx="825.29" cy="387.42" rx="4.5" ry="4.5"/><ellipse cx="864.41" cy="376.97" rx="4.5" ry="4.5"/><ellipse cx="903.53" cy="366.52" rx="4.5" ry="4.5"/></g>
<path d="M551.45 570.5 L590.57 566.76 L629.69 556.82 L668.81 546.87 L707.93 536.91 L747.05 526.72 L786.17 519 L825.29 513.03 L864.41 508.06 L903.53 505.57" stroke="#d62728" stroke-width="2" fill="none" stroke-linejoin="round" stroke-linecap="square"/>
<g fill="#d62728"><ellipse cx="551.45" cy="570.5" rx="4.5" ry="4.5"/><ellipse cx="590.57" cy="566.76" rx="4.5" ry="4.5"/><ellipse cx="629.69" cy="556.82" rx="4.5" ry="4.5"/><ellipse cx="668.81" cy="546.87" rx="4.5" ry="4.5"/><ellipse cx="707.93" cy="536.91" rx="4.5" ry="4.5"/><ellipse cx="747.05" cy="526.72" rx="4.5" ry="4.5"/><ellipse cx="786.17" cy="519" rx="4.5" ry="4.5"/><ellipse cx="825.29" cy="513.03" rx="4.5" ry="4.5"/><ellipse cx="864.41" cy="508.06" rx="4.5" ry="4.5"/><ellipse cx="903.53" cy="505.57" rx="4.5" ry="4.5"/></g>
<path d="M551.45 573.23 L590.57 564.28 L629.69 558.06 L668.81 551.09 L707.93 547.36 L747.05 538.9 L786.17 532.94 L825.29 524.98 L864.41 517.26 L903.53 508.06" stroke="#9467bd" stroke-width="2" fill="none" stroke-linejoin="round" stroke-linecap="square"/>
<g fill="#9467bd"><ellipse cx="551.45" cy="573.23" rx="4.5" ry="4.5"/><ellipse cx="590.57" cy="564.28" rx="4.5" ry="4.5"/><ellipse cx="629.69" cy="558.06" rx="4.5" ry="4.5"/><ellipse cx="668.81" cy="551.09" rx="4.5" ry="4.5"/><ellipse cx="707.93" cy="547.36" rx="4.5" ry="4.5"/><ellipse cx="747.05" cy="538.9" rx="4.5" ry="4.5"/><ellipse cx="786.17" cy="532.94" rx="4.5" ry="4.5"/><ellipse cx="825.29" cy="524.98" rx="4.5" ry="4.5"/><ellipse cx="864.41" cy="517.26" rx="4.5" ry="4.5"/><ellipse cx="903.53" cy="508.06" rx="4.5" ry="4.5"/></g>
<path d="M551.45 565.52 L590.57 561.29 L629.69 555.07 L668.81 546.87 L707.93 540.89 L747.05 531.94 L786.17 525.72 L825.29 519.25 L864.41 511.79 L903.53 505.82" stroke="#8c564b" stroke-width="2" fill="none" stroke-linejoin="round" stroke-linecap="square"/>
<g fill="#8c564b"><ellipse cx="551.45" cy="565.52" rx="4.5" ry="4.5"/><ellipse cx="590.57" cy="561.29" rx="4.5" ry="4.5"/><ellipse cx="629.69" cy="555.07" rx="4.5" ry="4.5"/><ellipse cx="668.81" cy="546.87" rx="4.5" ry="4.5"/><ellipse cx="707.93" cy="540.89" rx="4.5" ry="4.5"/><ellipse cx="747.05" cy="531.94" rx="4.5" ry="4.5"/><ellipse cx="786.17" cy="525.72" rx="4.5" ry="4.5"/><ellipse cx="825.29" cy="519.25" rx="4.5" ry="4.5"/><ellipse cx="864.41" cy="511.79" rx="4.5" ry="4.5"/><ellipse cx="903.53" cy="505.82" rx="4.5" ry="4.5"/></g>
</g>
<rect x="533.5" y="355.5" width="387" height="232" fill="none" stroke="#000" stroke-width="1.15"/>
<path d="M551.5 587.5V592.8M629.5 587.5V592.8M707.5 587.5V592.8M786.5 587.5V592.8M864.5 587.5V592.8M533.5 559.5H528.2M533.5 510.5H528.2M533.5 460.5H528.2M533.5 410.5H528.2M533.5 360.5H528.2" stroke="#000" stroke-width="1.15" fill="none"/>
<text x="541.18" y="606.2" font-size="14.09" textLength="20.55" lengthAdjust="spacingAndGlyphs">0.0</text>
<text x="619.65" y="606.2" font-size="14.09" textLength="20.24" lengthAdjust="spacingAndGlyphs">0.2</text>
<text x="697.59" y="606.2" font-size="14.09" textLength="20.54" lengthAdjust="spacingAndGlyphs">0.4</text>
<text x="775.87" y="606.2" font-size="14.09" textLength="20.67" lengthAdjust="spacingAndGlyphs">0.6</text>
<text x="854.15" y="606.2" font-size="14.09" textLength="20.59" lengthAdjust="spacingAndGlyphs">0.8</text>
<text x="503.08" y="565.03" font-size="14.09" textLength="20.67" lengthAdjust="spacingAndGlyphs">0.6</text>
<text x="503.16" y="515.28" font-size="14.09" textLength="20.59" lengthAdjust="spacingAndGlyphs">0.8</text>
<text x="503.17" y="465.53" font-size="14.09" textLength="20.51" lengthAdjust="spacingAndGlyphs">1.0</text>
<text x="503.63" y="415.78" font-size="14.09" textLength="20.2" lengthAdjust="spacingAndGlyphs">1.2</text>
<text x="503.03" y="366.03" font-size="14.09" textLength="20.5" lengthAdjust="spacingAndGlyphs">1.4</text>
<g transform="translate(491.5 506.6) rotate(-90)"><text x="-2.56" y="0" font-size="30.23" textLength="67.6" lengthAdjust="spacingAndGlyphs">MAE</text></g>
<text x="630.9" y="645.2" font-size="28.49" textLength="161.74" lengthAdjust="spacingAndGlyphs">Missing Rate</text>
<path transform="translate(797.3 627.6)" d="M2.6 6.6C3.3 5.1 4.8 4.0 6.6 4.0C8.3 4.0 9.3 4.7 9.9 5.9C11.2 4.8 12.9 4.0 14.6 4.0C16.1 4.0 16.9 4.7 16.9 5.8C16.9 7.0 16.0 7.8 15.0 7.8C14.0 7.8 13.5 7.1 13.8 6.3C12.2 6.5 10.8 7.6 9.9 9.0L7.9 17.6L4.0 17.6L6.2 7.4C6.3 6.5 5.9 5.9 5.1 5.9C4.3 5.9 3.7 6.4 3.2 7.1Z"/>
<text x="699.92" y="686.6" font-size="28.76" textLength="33.05" lengthAdjust="spacingAndGlyphs">(e)</text>
<rect x="539.6" y="361.6" width="84.3" height="99.2" rx="2.5" fill="#fff" fill-opacity="0.8" stroke="#d4d4d4" stroke-opacity="0.8" stroke-width="1"/>
<path d="M542.6 370.3H566.2" stroke="#1f77b4" stroke-width="2"/>
<ellipse cx="554.4" cy="370.3" rx="4.5" ry="4.5" fill="#1f77b4"/>
<text x="574.18" y="374.27" font-size="11.55" textLength="43.11" lengthAdjust="spacingAndGlyphs">self_MM</text>
<path d="M542.6 386.2H566.2" stroke="#ff7f0e" stroke-width="2"/>
<ellipse cx="554.4" cy="386.2" rx="4.5" ry="4.5" fill="#ff7f0e"/>
<text x="573.95" y="390.17" font-size="11.55" textLength="36.41" lengthAdjust="spacingAndGlyphs">CENET</text>
<path d="M542.6 402.3H566.2" stroke="#2ca02c" stroke-width="2"/>
<ellipse cx="554.4" cy="402.3" rx="4.5" ry="4.5" fill="#2ca02c"/>
<text x="574.26" y="406.27" font-size="11.55" textLength="34.71" lengthAdjust="spacingAndGlyphs">TETFN</text>
<path d="M542.6 418.2H566.2" stroke="#d62728" stroke-width="2"/>
<ellipse cx="554.4" cy="418.2" rx="4.5" ry="4.5" fill="#d62728"/>
<text x="574.25" y="422.17" font-size="11.55" textLength="45.19" lengthAdjust="spacingAndGlyphs">TFR_Net</text>
<path d="M542.6 434.3H566.2" stroke="#9467bd" stroke-width="2"/>
<ellipse cx="554.4" cy="434.3" rx="4.5" ry="4.5" fill="#9467bd"/>
<text x="574.48" y="438.27" font-size="11.55" textLength="29.82" lengthAdjust="spacingAndGlyphs">ALMT</text>
<path d="M542.6 450.4H566.2" stroke="#8c564b" stroke-width="2"/>
<ellipse cx="554.4" cy="450.4" rx="4.5" ry="4.5" fill="#8c564b"/>
<text x="573.6" y="454.37" font-size="11.55" textLength="28.11" lengthAdjust="spacingAndGlyphs">LNLN</text>
<clipPath id="clip5"><rect x="991.6" y="355.4" width="378.9" height="231.1"/></clipPath>
<path d="M1008.5 355.4V586.5M1085.5 355.4V586.5M1161.5 355.4V586.5M1238.5 355.4V586.5M1314.5 355.4V586.5M991.6 555.5H1370.5M991.6 520.5H1370.5M991.6 485.5H1370.5M991.6 450.5H1370.5M991.6 415.5H1370.5M991.6 380.5H1370.5" stroke="#b0b0b0" stroke-width="1" fill="none"/>
<g clip-path="url(#clip5)">
<path d="M1008.6 575.6 L1046.84 568.6 L1085.08 545.5 L1123.32 539.2 L1161.56 532.9 L1199.8 508.4 L1238.04 487.4 L1276.28 470.6 L1314.52 460.8 L1352.76 460.8" stroke="#1f77b4" stroke-width="1.5" fill="none" stroke-linejoin="round" stroke-linecap="square"/>
<g fill="#1f77b4"><ellipse cx="1008.6" cy="575.6" rx="4.41" ry="3.99"/><ellipse cx="1046.84" cy="568.6" rx="4.41" ry="3.99"/><ellipse cx="1085.08" cy="545.5" rx="4.41" ry="3.99"/><ellipse cx="1123.32" cy="539.2" rx="4.41" ry="3.99"/><ellipse cx="1161.56" cy="532.9" rx="4.41" ry="3.99"/><ellipse cx="1199.8" cy="508.4" rx="4.41" ry="3.99"/><ellipse cx="1238.04" cy="487.4" rx="4.41" ry="3.99"/><ellipse cx="1276.28" cy="470.6" rx="4.41" ry="3.99"/><ellipse cx="1314.52" cy="460.8" rx="4.41" ry="3.99"/><ellipse cx="1352.76" cy="460.8" rx="4.41" ry="3.99"/></g>
<path d="M1008.6 465.7 L1046.84 464.3 L1085.08 462.2 L1123.32 465.7 L1161.56 462.2 L1199.8 458.7 L1238.04 455.9 L1276.28 451 L1314.52 450.3 L1352.76 444" stroke="#ff7f0e" stroke-width="1.5" fill="none" stroke-linejoin="round" stroke-linecap="square"/>
<g fill="#ff7f0e"><ellipse cx="1008.6" cy="465.7" rx="4.41" ry="3.99"/><ellipse cx="1046.84" cy="464.3" rx="4.41" ry="3.99"/><ellipse cx="1085.08" cy="462.2" rx="4.41" ry="3.99"/><ellipse cx="1123.32" cy="465.7" rx="4.41" ry="3.99"/><ellipse cx="1161.56" cy="462.2" rx="4.41" ry="3.99"/><ellipse cx="1199.8" cy="458.7" rx="4.41" ry="3.99"/><ellipse cx="1238.04" cy="455.9" rx="4.41" ry="3.99"/><ellipse cx="1276.28" cy="451" rx="4.41" ry="3.99"/><ellipse cx="1314.52" cy="450.3" rx="4.41" ry="3.99"/><ellipse cx="1352.76" cy="444" rx="4.41" ry="3.99"/></g>
<path d="M1008.6 574.2 L1046.84 568.6 L1085.08 550.4 L1123.32 546.9 L1161.56 539.9 L1199.8 512.6 L1238.04 489.5 L1276.28 470.6 L1314.52 460.8 L1352.76 458" stroke="#2ca02c" stroke-width="1.5" fill="none" stroke-linejoin="round" stroke-linecap="square"/>
<g fill="#2ca02c"><ellipse cx="1008.6" cy="574.2" rx="4.41" ry="3.99"/><ellipse cx="1046.84" cy="568.6" rx="4.41" ry="3.99"/><ellipse cx="1085.08" cy="550.4" rx="4.41" ry="3.99"/><ellipse cx="1123.32" cy="546.9" rx="4.41" ry="3.99"/><ellipse cx="1161.56" cy="539.9" rx="4.41" ry="3.99"/><ellipse cx="1199.8" cy="512.6" rx="4.41" ry="3.99"/><ellipse cx="1238.04" cy="489.5" rx="4.41" ry="3.99"/><ellipse cx="1276.28" cy="470.6" rx="4.41" ry="3.99"/><ellipse cx="1314.52" cy="460.8" rx="4.41" ry="3.99"/><ellipse cx="1352.76" cy="458" rx="4.41" ry="3.99"/></g>
<path d="M1008.6 476.2 L1046.84 453.1 L1085.08 437.7 L1123.32 423 L1161.56 405.5 L1199.8 390.8 L1238.04 383.8 L1276.28 376.1 L1314.52 365.6 L1352.76 365.6" stroke="#d62728" stroke-width="1.5" fill="none" stroke-linejoin="round" stroke-linecap="square"/>
<g fill="#d62728"><ellipse cx="1008.6" cy="476.2" rx="4.41" ry="3.99"/><ellipse cx="1046.84" cy="453.1" rx="4.41" ry="3.99"/><ellipse cx="1085.08" cy="437.7" rx="4.41" ry="3.99"/><ellipse cx="1123.32" cy="423" rx="4.41" ry="3.99"/><ellipse cx="1161.56" cy="405.5" rx="4.41" ry="3.99"/><ellipse cx="1199.8" cy="390.8" rx="4.41" ry="3.99"/><ellipse cx="1238.04" cy="383.8" rx="4.41" ry="3.99"/><ellipse cx="1276.28" cy="376.1" rx="4.41" ry="3.99"/><ellipse cx="1314.52" cy="365.6" rx="4.41" ry="3.99"/><ellipse cx="1352.76" cy="365.6" rx="4.41" ry="3.99"/></g>
<path d="M1008.6 501.4 L1046.84 500 L1085.08 491.6 L1123.32 488.1 L1161.56 486.7 L1199.8 476.2 L1238.04 469.2 L1276.28 460.1 L1314.52 452.4 L1352.76 453.1" stroke="#9467bd" stroke-width="1.5" fill="none" stroke-linejoin="round" stroke-linecap="square"/>
<g fill="#9467bd"><ellipse cx="1008.6" cy="501.4" rx="4.41" ry="3.99"/><ellipse cx="1046.84" cy="500" rx="4.41" ry="3.99"/><ellipse cx="1085.08" cy="491.6" rx="4.41" ry="3.99"/><ellipse cx="1123.32" cy="488.1" rx="4.41" ry="3.99"/><ellipse cx="1161.56" cy="486.7" rx="4.41" ry="3.99"/><ellipse cx="1199.8" cy="476.2" rx="4.41" ry="3.99"/><ellipse cx="1238.04" cy="469.2" rx="4.41" ry="3.99"/><ellipse cx="1276.28" cy="460.1" rx="4.41" ry="3.99"/><ellipse cx="1314.52" cy="452.4" rx="4.41" ry="3.99"/><ellipse cx="1352.76" cy="453.1" rx="4.41" ry="3.99"/></g>
<path d="M1008.6 550.4 L1046.84 550.4 L1085.08 538.5 L1123.32 535.7 L1161.56 526.6 L1199.8 511.9 L1238.04 496.5 L1276.28 479.7 L1314.52 465 L1352.76 456.6" stroke="#8c564b" stroke-width="1.5" fill="none" stroke-linejoin="round" stroke-linecap="square"/>
<g fill="#8c564b"><ellipse cx="1008.6" cy="550.4" rx="4.41" ry="3.99"/><ellipse cx="1046.84" cy="550.4" rx="4.41" ry="3.99"/><ellipse cx="1085.08" cy="538.5" rx="4.41" ry="3.99"/><ellipse cx="1123.32" cy="535.7" rx="4.41" ry="3.99"/><ellipse cx="1161.56" cy="526.6" rx="4.41" ry="3.99"/><ellipse cx="1199.8" cy="511.9" rx="4.41" ry="3.99"/><ellipse cx="1238.04" cy="496.5" rx="4.41" ry="3.99"/><ellipse cx="1276.28" cy="479.7" rx="4.41" ry="3.99"/><ellipse cx="1314.52" cy="465" rx="4.41" ry="3.99"/><ellipse cx="1352.76" cy="456.6" rx="4.41" ry="3.99"/></g>
</g>
<rect x="991.5" y="355.5" width="379" height="231" fill="none" stroke="#000" stroke-width="1.15"/>
<path d="M1008.5 586.5V590.5M1085.5 586.5V590.5M1161.5 586.5V590.5M1238.5 586.5V590.5M1314.5 586.5V590.5M991.5 555.5H987.5M991.5 520.5H987.5M991.5 485.5H987.5M991.5 450.5H987.5M991.5 415.5H987.5M991.5 380.5H987.5" stroke="#000" stroke-width="1.15" fill="none"/>
<text x="1000.74" y="600.3" font-size="9.54" textLength="15.71" lengthAdjust="spacingAndGlyphs">0.0</text>
<text x="1077.4" y="600.3" font-size="9.54" textLength="15.48" lengthAdjust="spacingAndGlyphs">0.2</text>
<text x="1153.65" y="600.3" font-size="9.54" textLength="15.7" lengthAdjust="spacingAndGlyphs">0.4</text>
<text x="1230.16" y="600.3" font-size="9.54" textLength="15.81" lengthAdjust="spacingAndGlyphs">0.6</text>
<text x="1306.67" y="600.3" font-size="9.54" textLength="15.74" lengthAdjust="spacingAndGlyphs">0.8</text>
<text x="962.77" y="558.84" font-size="9.54" textLength="22" lengthAdjust="spacingAndGlyphs">0.45</text>
<text x="962.56" y="523.84" font-size="9.54" textLength="22.19" lengthAdjust="spacingAndGlyphs">0.50</text>
<text x="962.77" y="488.84" font-size="9.54" textLength="22" lengthAdjust="spacingAndGlyphs">0.55</text>
<text x="962.56" y="453.84" font-size="9.54" textLength="22.19" lengthAdjust="spacingAndGlyphs">0.60</text>
<text x="962.77" y="418.84" font-size="9.54" textLength="22" lengthAdjust="spacingAndGlyphs">0.65</text>
<text x="962.56" y="383.84" font-size="9.54" textLength="22.19" lengthAdjust="spacingAndGlyphs">0.70</text>
<g transform="translate(956.4 506.1) rotate(-90)"><text x="-2.55" y="0" font-size="29.8" textLength="67.39" lengthAdjust="spacingAndGlyphs">MAE</text></g>
<text x="1089.1" y="645.5" font-size="28.49" textLength="161.74" lengthAdjust="spacingAndGlyphs">Missing Rate</text>
<path transform="translate(1255.5 627.9)" d="M2.6 6.6C3.3 5.1 4.8 4.0 6.6 4.0C8.3 4.0 9.3 4.7 9.9 5.9C11.2 4.8 12.9 4.0 14.6 4.0C16.1 4.0 16.9 4.7 16.9 5.8C16.9 7.0 16.0 7.8 15.0 7.8C14.0 7.8 13.5 7.1 13.8 6.3C12.2 6.5 10.8 7.6 9.9 9.0L7.9 17.6L4.0 17.6L6.2 7.4C6.3 6.5 5.9 5.9 5.1 5.9C4.3 5.9 3.7 6.4 3.2 7.1Z"/>
<text x="1167.08" y="686.5" font-size="28.76" textLength="30.74" lengthAdjust="spacingAndGlyphs">(f)</text>
<rect x="1288.7" y="496.5" width="76.7" height="85.6" rx="2.5" fill="#fff" fill-opacity="0.8" stroke="#d4d4d4" stroke-opacity="0.8" stroke-width="1"/>
<path d="M1292.3 504.4H1312.9" stroke="#1f77b4" stroke-width="1.5"/>
<ellipse cx="1302.6" cy="504.4" rx="4.41" ry="3.99" fill="#1f77b4"/>
<text x="1320.41" y="507.64" font-size="9.43" textLength="39.07" lengthAdjust="spacingAndGlyphs">self_MM</text>
<path d="M1292.3 518.3H1312.9" stroke="#ff7f0e" stroke-width="1.5"/>
<ellipse cx="1302.6" cy="518.3" rx="4.41" ry="3.99" fill="#ff7f0e"/>
<text x="1320.21" y="521.54" font-size="9.43" textLength="33" lengthAdjust="spacingAndGlyphs">CENET</text>
<path d="M1292.3 532H1312.9" stroke="#2ca02c" stroke-width="1.5"/>
<ellipse cx="1302.6" cy="532" rx="4.41" ry="3.99" fill="#2ca02c"/>
<text x="1320.48" y="535.24" font-size="9.43" textLength="31.46" lengthAdjust="spacingAndGlyphs">TETFN</text>
<path d="M1292.3 545.5H1312.9" stroke="#d62728" stroke-width="1.5"/>
<ellipse cx="1302.6" cy="545.5" rx="4.41" ry="3.99" fill="#d62728"/>
<text x="1320.47" y="548.74" font-size="9.43" textLength="40.96" lengthAdjust="spacingAndGlyphs">TFR_Net</text>
<path d="M1292.3 559.3H1312.9" stroke="#9467bd" stroke-width="1.5"/>
<ellipse cx="1302.6" cy="559.3" rx="4.41" ry="3.99" fill="#9467bd"/>
<text x="1320.68" y="562.54" font-size="9.43" textLength="27.02" lengthAdjust="spacingAndGlyphs">ALMT</text>
<path d="M1292.3 573H1312.9" stroke="#8c564b" stroke-width="1.5"/>
<ellipse cx="1302.6" cy="573" rx="4.41" ry="3.99" fill="#8c564b"/>
<text x="1319.88" y="576.24" font-size="9.43" textLength="25.48" lengthAdjust="spacingAndGlyphs">LNLN</text>
</svg>
</body></html>
